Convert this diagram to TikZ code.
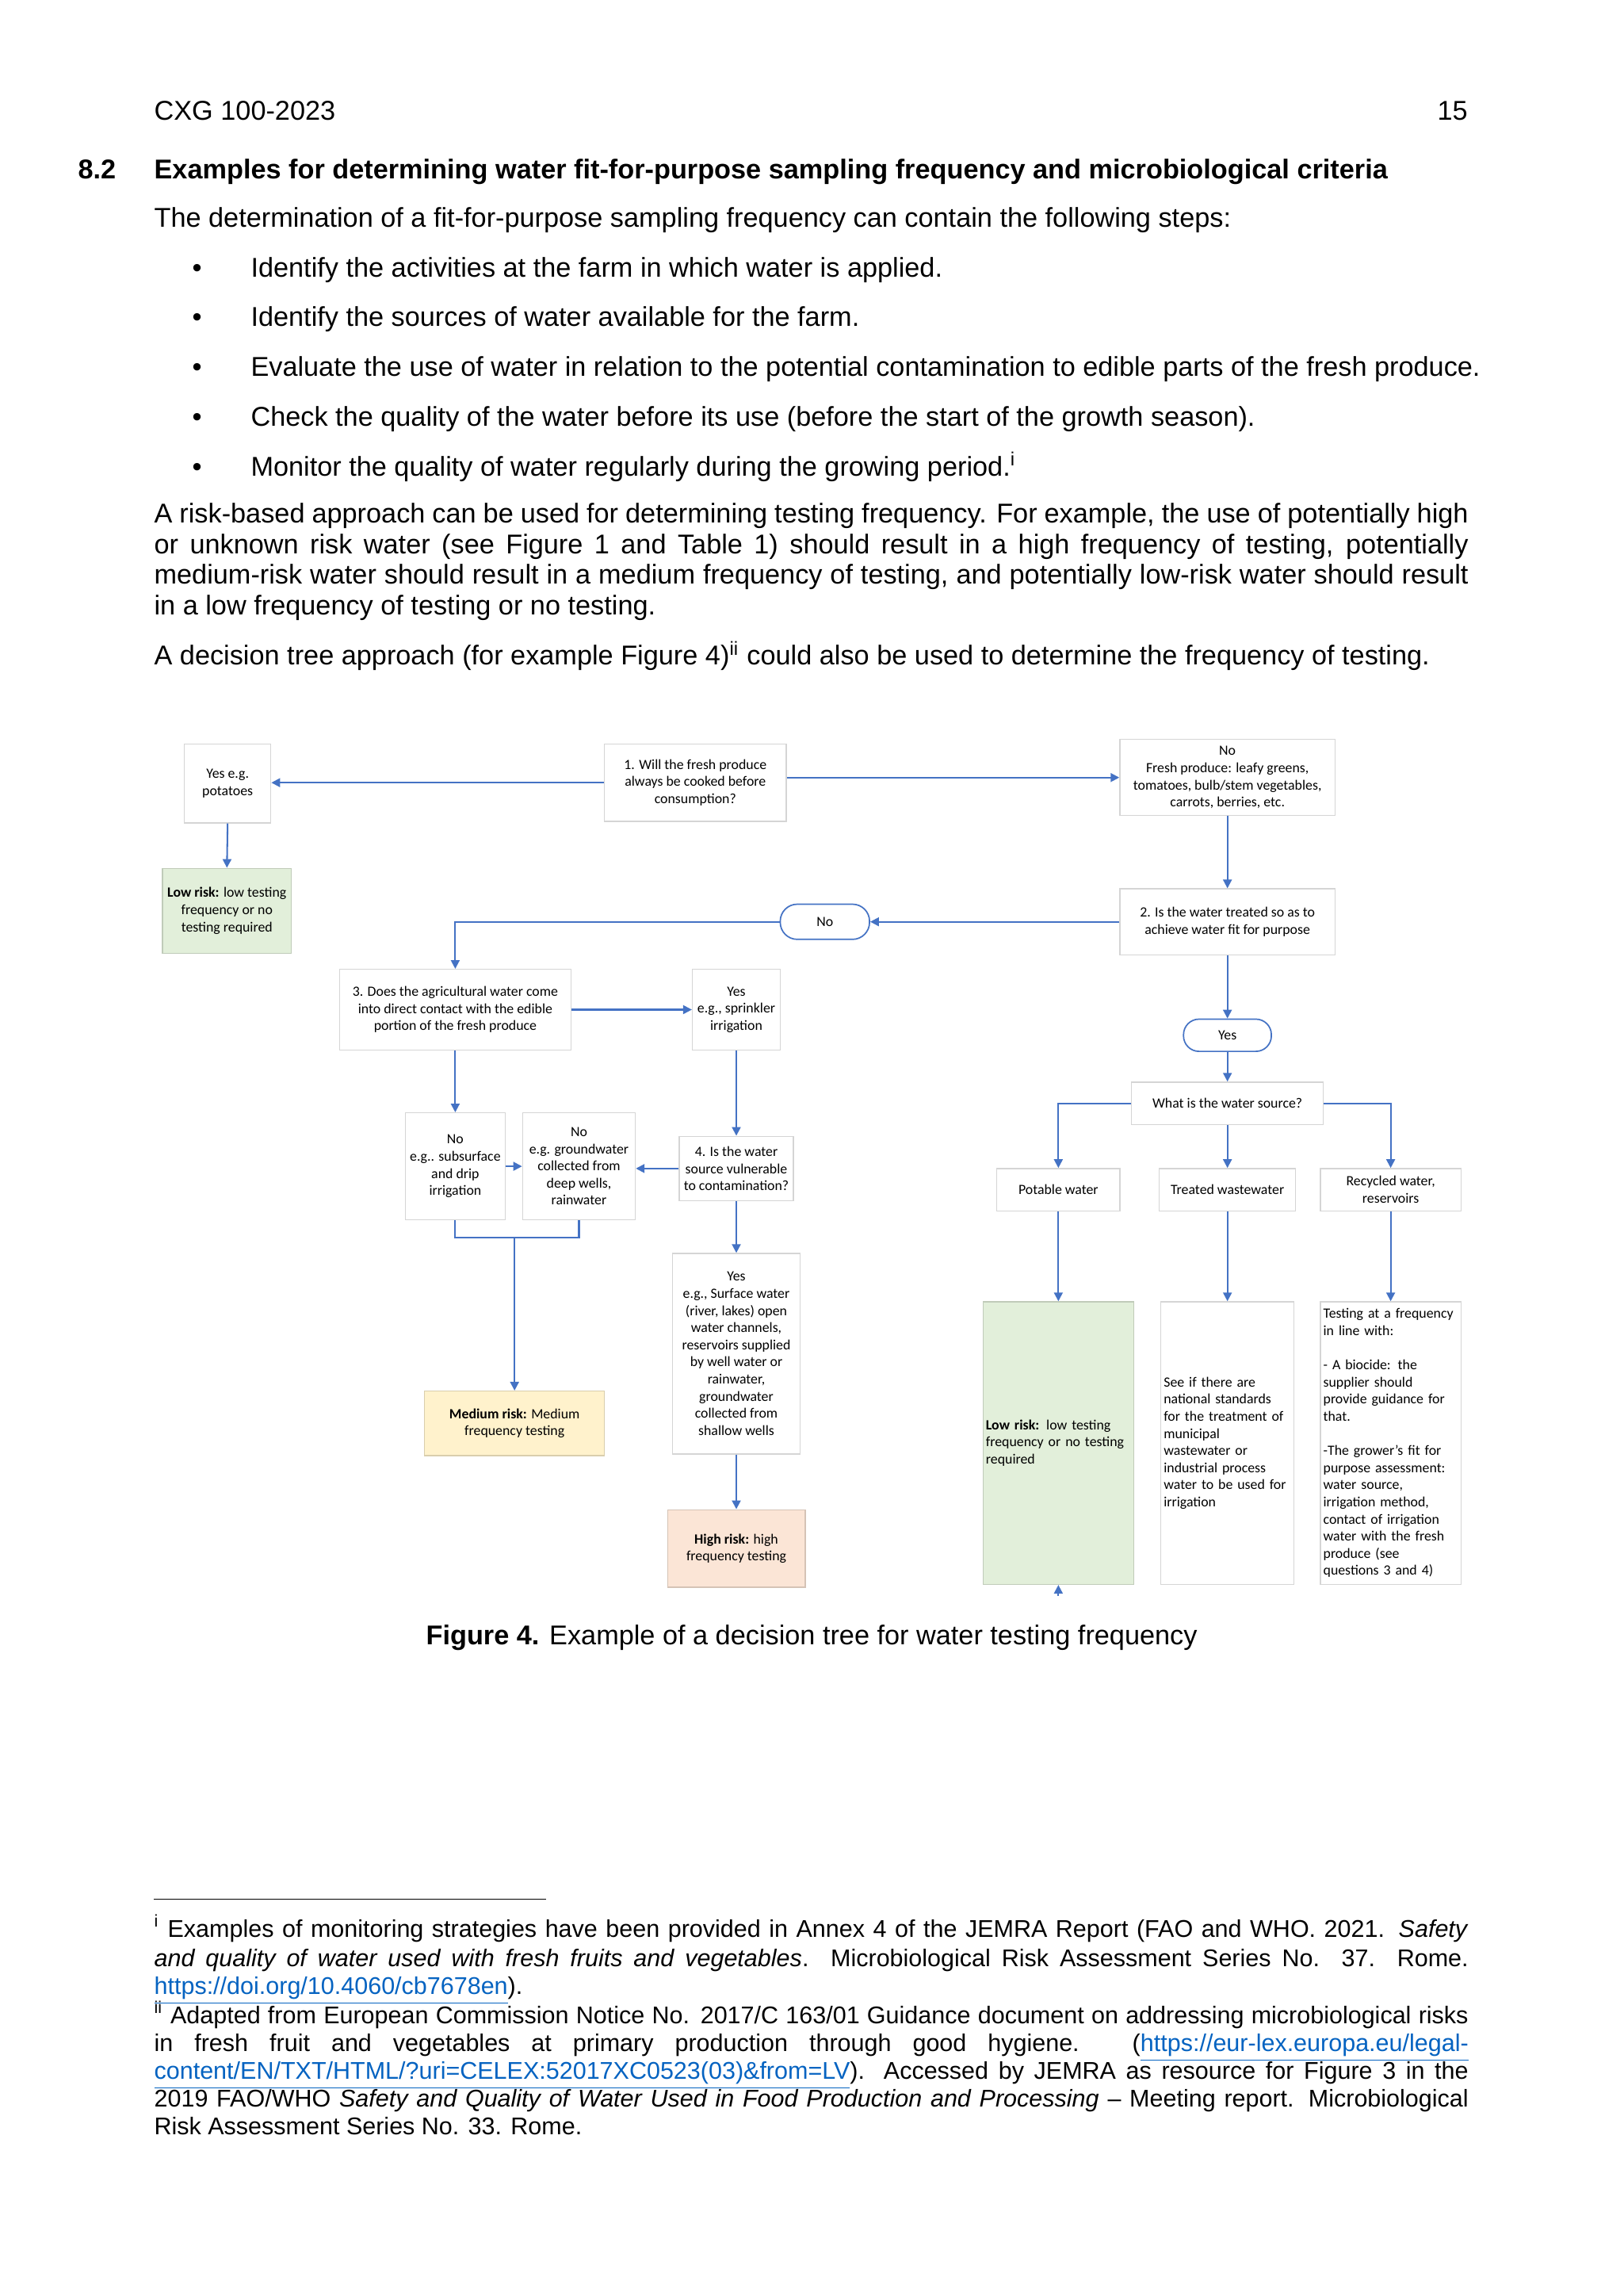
\documentclass[tikz,border=0pt]{standalone}
\usepackage{fontspec}
\setmainfont{Liberation Sans}
\newfontfamily\calib{Carlito}
\usetikzlibrary{arrows.meta}
\definecolor{lnblue}{HTML}{4472C4}
\definecolor{boxgray}{HTML}{D5D5D5}
\definecolor{lowgreen}{HTML}{E2EFDA}
\definecolor{medyellow}{HTML}{FFF2CC}
\definecolor{highpeach}{HTML}{FBE5D6}
\definecolor{linkblue}{HTML}{0563C1}
\def\U{0.018936cm}
\newcommand{\lnk}[1]{\textcolor{linkblue}{\underline{#1}}}
\begin{document}
\begin{tikzpicture}[x=0.018936cm,y=-0.018936cm,
  txt/.style={inner sep=0pt,font=\fontsize{10}{12}\selectfont},
  fn/.style={inner sep=0pt,font=\fontsize{8.9}{10.5}\selectfont},
  box/.style={draw=boxgray,line width=0.4pt,fill=white,inner sep=1pt,align=center,
    font=\calib\fontsize{5.2}{6.3}\selectfont},
  term/.style={draw=lnblue,line width=0.5pt,fill=white,inner sep=1pt,align=center,
    font=\calib\fontsize{5.2}{6.3}\selectfont},
  conn/.style={draw=lnblue,line width=0.6pt},
  arr/.style={conn,-{Triangle[length=3.2pt,width=3.2pt]}}]
\fill[white] (0,0) rectangle (1109,1568);
\useasboundingbox (0,0) rectangle (1109,1568);

% ---------- page text ----------
\node[txt,anchor=base west] (hdr) at (105,82) {CXG 100-2023};
\node[txt,anchor=base east] (pg) at (1003,82) {15};
\node[txt,anchor=base west,font=\fontsize{10}{12}\selectfont\bfseries] (secn) at (53,122) {8.2};
\node[txt,anchor=base west,font=\fontsize{10}{12}\selectfont\bfseries] (sect) at (105,122) {Examples for determining water fit-for-purpose sampling frequency and microbiological criteria};
\node[txt,anchor=base west] (intro) at (105,155) {The determination of a fit-for-purpose sampling frequency can contain the following steps:};
\node[txt,anchor=base west] (b1d) at (131,189) {\textbullet};
\node[txt,anchor=base west] (b1) at (171,189) {Identify the activities at the farm in which water is applied.};
\node[txt,anchor=base west] (b2d) at (131,223) {\textbullet};
\node[txt,anchor=base west] (b2) at (171,223) {Identify the sources of water available for the farm.};
\node[txt,anchor=base west] (b3d) at (131,257) {\textbullet};
\node[txt,anchor=base west] (b3) at (171,257) {Evaluate the use of water in relation to the potential contamination to edible parts of the fresh produce.};
\node[txt,anchor=base west] (b4d) at (131,291) {\textbullet};
\node[txt,anchor=base west] (b4) at (171,291) {Check the quality of the water before its use (before the start of the growth season).};
\node[txt,anchor=base west] (b5d) at (131,325) {\textbullet};
\node[txt,anchor=base west] (b5) at (171,325) {Monitor the quality of water regularly during the growing period.\textsuperscript{i}};
\node[txt,anchor=base west] (p1) at (105,357) {\makebox[17cm][s]{A risk-based approach can be used for determining testing frequency. For example, the use of potentially high}};
\node[txt,anchor=base west] (p2) at (105,378) {\makebox[17cm][s]{or unknown risk water (see Figure 1 and Table 1) should result in a high frequency of testing, potentially}};
\node[txt,anchor=base west] (p3) at (105,399) {\makebox[17cm][s]{medium-risk water should result in a medium frequency of testing, and potentially low-risk water should result}};
\node[txt,anchor=base west] (p4) at (105,420) {in a low frequency of testing or no testing.};
\node[txt,anchor=base west] (p5) at (105,454) {A decision tree approach (for example Figure 4)\textsuperscript{ii} could also be used to determine the frequency of testing.};

% ---------- diagram ----------
\node[box,minimum width=59*\U,minimum height=54*\U] (yes1) at (155.5,535) {Yes e.g.\\potatoes};
\node[box,fill=lowgreen,draw=lowgreen!85!black,minimum width=88*\U,minimum height=58*\U] (low1) at (155,622) {\textbf{Low risk:} low testing\\frequency or no\\testing required};
\node[box,minimum width=124*\U,minimum height=53*\U] (q1) at (475,534.5) {1. Will the fresh produce\\always be cooked before\\consumption?};
\node[box,minimum width=147*\U,minimum height=52*\U] (no1) at (838.5,531) {No\\Fresh produce: leafy greens,\\tomatoes, bulb/stem vegetables,\\carrots, berries, etc.};
\node[box,minimum width=147*\U,minimum height=45*\U] (q2) at (838.5,629.5) {2. Is the water treated so as to\\achieve water fit for purpose};
\node[term,rounded corners=0.22cm,minimum width=61*\U,minimum height=24*\U] (noT) at (563.5,629.5) {No};
\node[box,minimum width=158*\U,minimum height=55*\U] (q3) at (311,689.5) {3. Does the agricultural water come\\into direct contact with the edible\\portion of the fresh produce};
\node[box,minimum width=60*\U,minimum height=55*\U] (yes3) at (503,689.5) {Yes\\e.g., sprinkler\\irrigation};
\node[box,minimum width=68*\U,minimum height=73*\U] (no3a) at (311,796.5) {No\\e.g.. subsurface\\and drip\\irrigation};
\node[box,minimum width=77*\U,minimum height=73*\U] (no3b) at (395.5,796.5) {No\\e.g. groundwater\\collected from\\deep wells,\\rainwater};
\node[box,minimum width=78*\U,minimum height=44*\U] (q4) at (503,798) {4. Is the water\\source vulnerable\\to contamination?};
\node[box,minimum width=87*\U,minimum height=137*\U] (yes4) at (503,924.5) {Yes\\e.g., Surface water\\(river, lakes) open\\water channels,\\reservoirs supplied\\by well water or\\rainwater,\\groundwater\\collected from\\shallow wells};
\node[box,fill=medyellow,draw=medyellow!85!black,minimum width=123*\U,minimum height=44*\U] (med) at (351.5,972) {\textbf{Medium risk:} Medium\\frequency testing};
\node[box,fill=highpeach,draw=highpeach!85!black,minimum width=94*\U,minimum height=53*\U] (high) at (503,1057.5) {\textbf{High risk:} high\\frequency testing};
\node[term,rounded corners=0.2cm,minimum width=60*\U,minimum height=22*\U] (yesT) at (838.5,707) {Yes};
\node[box,minimum width=131*\U,minimum height=29*\U] (ws) at (838.5,753.5) {What is the water source?};
\node[box,minimum width=84*\U,minimum height=29*\U] (pot) at (723,812.5) {Potable water};
\node[box,minimum width=93*\U,minimum height=29*\U] (tww) at (838.5,812.5) {Treated wastewater};
\node[box,minimum width=96*\U,minimum height=29*\U] (rec) at (950,812.5) {Recycled water,\\reservoirs};
\node[box,fill=lowgreen,draw=lowgreen!85!black,align=left,inner xsep=2*\U,text width=99*\U,minimum width=103*\U,minimum height=193*\U] (low2) at (723,985.5) {\textbf{Low risk:} low testing\\frequency or no testing\\required};
\node[box,align=left,inner xsep=2*\U,text width=87*\U,minimum width=91*\U,minimum height=193*\U] (tx2) at (838.5,985.5) {See if there are\\national standards\\for the treatment of\\municipal\\wastewater or\\industrial process\\water to be used for\\irrigation};
\node[box,align=left,inner xsep=2*\U,text width=92*\U,minimum width=96*\U,minimum height=193*\U] (rec2) at (950,985.5) {Testing at a frequency\\in line with:\\[6.3pt]- A biocide: the\\supplier should\\provide guidance for\\that.\\[6.3pt]-The grower’s fit for\\purpose assessment:\\water source,\\irrigation method,\\contact of irrigation\\water with the fresh\\produce (see\\questions 3 and 4)};

% connectors
\draw[arr] (q1.west) -- (q1.west -| yes1.east);
\draw[arr] (yes1.south) -- (low1.north);
\draw[arr] (q1.east |- no1.west) -- (no1.west);
\draw[arr] (no1.south) -- (q2.north);
\draw[arr] (q2.west) -- (noT.east);
\draw[arr] (noT.west) -| (q3.north);
\draw[arr] (q3.east) -- (yes3.west);
\draw[arr] (q3.south) -- (no3a.north);
\draw[arr] (yes3.south) -- (q4.north);
\draw[arr] (q4.west) -- (q4.west -| no3b.east);
\draw[arr] (no3a.east) -- (no3b.west);
\coordinate (jn) at (352,845);
\draw[conn] (no3a.south) |- (jn) -| (no3b.south);
\draw[arr] (med.north |- jn) -- (med.north);
\draw[arr] (q4.south) -- (yes4.north);
\draw[arr] (yes4.south) -- (high.north);
\draw[arr] (q2.south) -- (yesT.north);
\draw[arr] (yesT.south) -- (ws.north);
\draw[arr] (ws.west) -| (pot.north);
\draw[arr] (ws.south) -- (tww.north);
\draw[arr] (ws.east) -| (rec.north);
\draw[arr] (pot.south) -- (low2.north);
\draw[arr] (tww.south) -- (tx2.north);
\draw[arr] (rec.south) -- (rec2.north);
\coordinate (upend) at (723,1090);
\draw[arr] (upend) -- (low2.south);

% caption
\node[txt,anchor=base] (cap) at (554.5,1123) {\textbf{Figure 4.} Example of a decision tree for water testing frequency};

% footnotes
\coordinate (rl) at (105,1297);
\coordinate (rr) at (373,1297);
\draw[line width=0.5pt] (rl) -- (rr);
\node[fn,anchor=base west] (f1) at (105,1323) {\makebox[17cm][s]{\textsuperscript{i} Examples of monitoring strategies have been provided in Annex 4 of the JEMRA Report (FAO and WHO. 2021. \textit{Safety}}};
\node[fn,anchor=base west] (f2) at (105,1343) {\makebox[17cm][s]{\textit{and quality of water used with fresh fruits and vegetables}. Microbiological Risk Assessment Series No. 37. Rome.}};
\node[fn,anchor=base west] (f3) at (105,1362) {\lnk{https://doi.org/10.4060/cb7678en}).};
\node[fn,anchor=base west] (f4) at (105,1382) {\makebox[17cm][s]{\textsuperscript{ii} Adapted from European Commission Notice No. 2017/C 163/01 Guidance document on addressing microbiological risks}};
\node[fn,anchor=base west] (f5) at (105,1401) {\makebox[17cm][s]{in fresh fruit and vegetables at primary production through good hygiene. (\lnk{https://eur-lex.europa.eu/legal-}}};
\node[fn,anchor=base west] (f6) at (105,1420) {\makebox[17cm][s]{\lnk{content/EN/TXT/HTML/?uri=CELEX:52017XC0523(03)\&from=LV}). Accessed by JEMRA as resource for Figure 3 in the}};
\node[fn,anchor=base west] (f7) at (105,1439) {\makebox[17cm][s]{2019 FAO/WHO \textit{Safety and Quality of Water Used in Food Production and Processing} -- Meeting report. Microbiological}};
\node[fn,anchor=base west] (f8) at (105,1458) {Risk Assessment Series No. 33. Rome.};
\end{tikzpicture}
\end{document}
